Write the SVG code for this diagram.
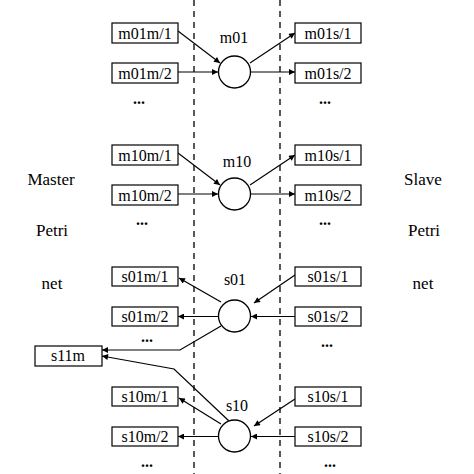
<svg xmlns="http://www.w3.org/2000/svg" width="474" height="474" viewBox="0 0 474 474">
<style>
.bl{font-size:16px;text-anchor:middle}
.side{font-size:17px;text-anchor:middle}
.dots{font-size:16px;text-anchor:middle;font-weight:bold}
.box{fill:#fff;stroke:#000;stroke-width:1.2}
.pl{fill:#fff;stroke:#000;stroke-width:1.3}
.dash{stroke:#000;stroke-width:1.3;stroke-dasharray:6 5;fill:none}
.arc{stroke:#000;stroke-width:1.2;fill:none;marker-end:url(#ah)}
</style>
<defs>
<marker id="ah" viewBox="0 0 10 10" refX="10" refY="5" markerWidth="8" markerHeight="6" markerUnits="userSpaceOnUse" orient="auto">
<path d="M0,0 L10,5 L0,10 z" fill="#000"/>
</marker>
</defs>
<rect width="474" height="474" fill="#fff"/>
<g id="dividers">
<line class="dash" x1="194" y1="0" x2="194" y2="474"/>
<line class="dash" x1="280" y1="0" x2="280" y2="474"/>
</g>
<g id="connectors">
<line class="arc" x1="178" y1="31" x2="220" y2="63"/>
<line class="arc" x1="178" y1="72" x2="218" y2="72"/>
<line class="arc" x1="250" y1="63" x2="295" y2="33"/>
<line class="arc" x1="251" y1="72" x2="295" y2="72"/>
<line class="arc" x1="178" y1="153" x2="220" y2="185"/>
<line class="arc" x1="178" y1="194" x2="218" y2="194"/>
<line class="arc" x1="250" y1="185" x2="295" y2="155"/>
<line class="arc" x1="251" y1="194" x2="295" y2="194"/>
<line class="arc" x1="221" y1="302" x2="179" y2="278"/>
<line class="arc" x1="218" y1="316.5" x2="178" y2="316.5"/>
<line class="arc" x1="295" y1="275" x2="254" y2="303"/>
<line class="arc" x1="295" y1="316.5" x2="251" y2="316.5"/>
<polyline class="arc" points="221,326 180,350 102,350"/>
<line class="arc" x1="221" y1="424" x2="179" y2="398"/>
<line class="arc" x1="218" y1="436.5" x2="178" y2="436.5"/>
<line class="arc" x1="295" y1="399" x2="254" y2="426"/>
<line class="arc" x1="295" y1="436.5" x2="251" y2="436.5"/>
<polyline class="arc" points="229,421 174,369 102,356"/>
</g>
<g font-family="Liberation Serif" fill="#000">
<g id="side-labels">
<text class="side" x="51" y="185">Master</text>
<text class="side" x="52" y="236">Petri</text>
<text class="side" x="52" y="289">net</text>
<text class="side" x="423" y="185">Slave</text>
<text class="side" x="424" y="236">Petri</text>
<text class="side" x="423" y="289">net</text>
</g>
<g id="m01">
<circle class="pl" cx="234.5" cy="72" r="16"/>
<text class="bl" x="234" y="43">m01</text>
</g>
<g id="m01m1"><rect class="box" x="112" y="23" width="66" height="20"/><text class="bl" x="145" y="39">m01m/1</text></g>
<g id="m01m2"><rect class="box" x="112" y="63" width="66" height="20"/><text class="bl" x="145" y="79">m01m/2</text></g>
<g id="m01s1"><rect class="box" x="295" y="23" width="66" height="20"/><text class="bl" x="328" y="39">m01s/1</text></g>
<g id="m01s2"><rect class="box" x="295" y="63" width="66" height="20"/><text class="bl" x="328" y="79">m01s/2</text></g>
<text class="dots" x="139" y="104">...</text>
<text class="dots" x="325" y="104">...</text>

<g id="m10">
<circle class="pl" cx="234.5" cy="194" r="16"/>
<text class="bl" x="237" y="167">m10</text>
</g>
<g id="m10m1"><rect class="box" x="112" y="145" width="66" height="20"/><text class="bl" x="145" y="161">m10m/1</text></g>
<g id="m10m2"><rect class="box" x="112" y="185" width="66" height="20"/><text class="bl" x="145" y="201">m10m/2</text></g>
<g id="m10s1"><rect class="box" x="295" y="145" width="66" height="20"/><text class="bl" x="328" y="161">m10s/1</text></g>
<g id="m10s2"><rect class="box" x="295" y="185" width="66" height="20"/><text class="bl" x="328" y="201">m10s/2</text></g>
<text class="dots" x="142" y="225">...</text>
<text class="dots" x="325" y="225">...</text>

<g id="s01">
<circle class="pl" cx="234.5" cy="316" r="16"/>
<text class="bl" x="235" y="285">s01</text>
</g>
<g id="s01m1"><rect class="box" x="112" y="267" width="66" height="19"/><text class="bl" x="145" y="282">s01m/1</text></g>
<g id="s01m2"><rect class="box" x="112" y="307" width="66" height="19"/><text class="bl" x="145" y="322">s01m/2</text></g>
<g id="s01s1"><rect class="box" x="295" y="267" width="66" height="19"/><text class="bl" x="328" y="282">s01s/1</text></g>
<g id="s01s2"><rect class="box" x="295" y="307" width="66" height="19"/><text class="bl" x="328" y="322">s01s/2</text></g>
<text class="dots" x="147" y="342">...</text>
<text class="dots" x="327" y="347">...</text>

<g id="s11m"><rect class="box" x="35" y="346" width="67" height="20"/><text class="bl" x="68" y="361">s11m</text></g>

<g id="s10">
<circle class="pl" cx="234.5" cy="436" r="16"/>
<text class="bl" x="237" y="411">s10</text>
</g>
<g id="s10m1"><rect class="box" x="112" y="387" width="66" height="19"/><text class="bl" x="145" y="402">s10m/1</text></g>
<g id="s10m2"><rect class="box" x="112" y="427" width="66" height="19"/><text class="bl" x="145" y="442">s10m/2</text></g>
<g id="s10s1"><rect class="box" x="295" y="387" width="66" height="19"/><text class="bl" x="328" y="402">s10s/1</text></g>
<g id="s10s2"><rect class="box" x="295" y="427" width="66" height="19"/><text class="bl" x="328" y="442">s10s/2</text></g>
<text class="dots" x="147" y="467">...</text>
<text class="dots" x="330" y="467">...</text>
</g>
</svg>
